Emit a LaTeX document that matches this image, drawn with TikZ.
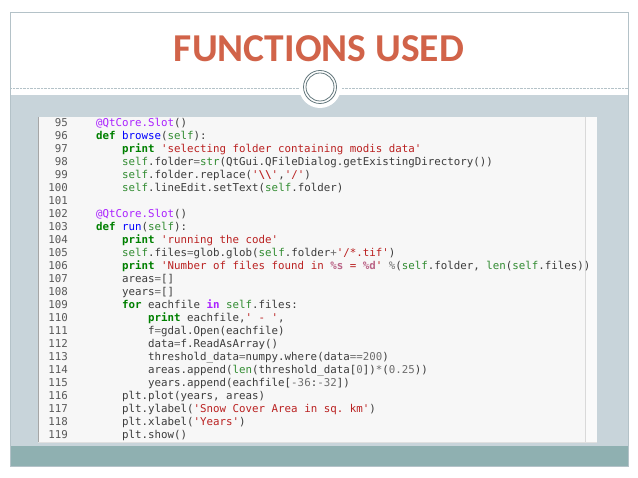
\documentclass[tikz,border=0pt]{standalone}
\usepackage{fontspec}
\setmainfont{Carlito}
\setmonofont{DejaVu Sans Mono}
\definecolor{titlered}{RGB}{209,99,73}
\definecolor{panelgray}{RGB}{200,212,218}
\definecolor{bandteal}{RGB}{143,176,177}
\definecolor{framegray}{RGB}{180,194,200}
\definecolor{ringgray}{RGB}{100,120,125}
\definecolor{codebg}{RGB}{247,247,247}
\definecolor{codetext}{RGB}{60,60,60}
\definecolor{kwgreen}{RGB}{0,128,0}
\definecolor{selfgreen}{RGB}{50,140,50}
\definecolor{strred}{RGB}{186,33,33}
\definecolor{numgray}{RGB}{110,110,110}
\definecolor{decpurple}{RGB}{170,34,255}
\definecolor{fnblue}{RGB}{0,0,255}
\definecolor{interp}{RGB}{187,102,136}
\newcommand{\kwd}[1]{\textcolor{kwgreen}{\bfseries #1}}
\newcommand{\inkw}[1]{\textcolor{decpurple}{\bfseries #1}}
\newcommand{\slf}{\textcolor{selfgreen}{self}}
\newcommand{\bltn}[1]{\textcolor{selfgreen}{#1}}
\newcommand{\strg}[1]{\textcolor{strred}{#1}}
\newcommand{\numb}[1]{\textcolor{numgray}{#1}}
\newcommand{\decor}[1]{\textcolor{decpurple}{#1}}
\newcommand{\fnm}[1]{\textcolor{fnblue}{#1}}
\newcommand{\fmt}[1]{\textcolor{interp}{\bfseries #1}}
\newcommand{\eq}{\numb{=}}
\begin{document}
\begin{tikzpicture}[x=1pt,y=-1pt,
        codeline/.style={anchor=base west,inner sep=0pt,text=codetext,
            font=\ttfamily\fontsize{10.8}{13}\selectfont},
        lineno/.style={anchor=base east,inner sep=0pt,text=codetext!85,
            font=\ttfamily\fontsize{10.8}{13}\selectfont}]
\useasboundingbox (0,0) rectangle (638,478);
\fill[white] (0,0) rectangle (638,478);

% slide frame
\fill[panelgray] (10,95) rectangle (628,446);
\fill[bandteal] (10,446) rectangle (628,466);
\draw[framegray] (10,12) rectangle (628,466);
\draw[framegray,densely dotted] (10,88) -- (628,88);

% title and ring
\node[text=titlered,font=\fontsize{39.5}{42}\selectfont\bfseries] (title) at (319,49) {FUNCTIONS USED};
\fill[white] (320,87) circle (21);
\draw[ringgray,line width=0.8pt] (320,87) circle (16.5);
\draw[ringgray,line width=0.8pt] (320,87) circle (14);

% code screenshot
\fill[codebg] (38,117) rectangle (597,442);
\fill[codebg!60!white] (585,117) rectangle (597,442);
\draw[black!15] (585,117) -- (585,442);
\draw[black!35] (38,117) -- (38,442);
\draw[black!12] (38,442) -- (597,442);

\foreach \n in {95,...,119}
    \node[lineno] (n\n) at (68,{127+13*(\n-95)}) {\n};

\node[codeline] (l95) at (96,127) {\decor{@QtCore.Slot}()};
\node[codeline] (l96) at (96,140) {\kwd{def} \fnm{browse}(\slf):};
\node[codeline] (l97) at (122,153) {\kwd{print} \strg{'selecting folder containing modis data'}};
\node[codeline] (l98) at (122,166) {\slf.folder\eq\bltn{str}(QtGui.QFileDialog.getExistingDirectory())};
\node[codeline] (l99) at (122,179) {\slf.folder.replace(\strg{'\textbf{\textbackslash\textbackslash}'},\strg{'/'})};
\node[codeline] (l100) at (122,192) {\slf.lineEdit.setText(\slf.folder)};

\node[codeline] (l102) at (96,218) {\decor{@QtCore.Slot}()};
\node[codeline] (l103) at (96,231) {\kwd{def} \fnm{run}(\slf):};
\node[codeline] (l104) at (122,244) {\kwd{print} \strg{'running the code'}};
\node[codeline] (l105) at (122,257) {\slf.files\eq glob.glob(\slf.folder\numb{+}\strg{'/*.tif'})};
\node[codeline] (l106) at (122,270) {\kwd{print} \strg{'Number of files found in \fmt{\%s} = \fmt{\%d}'} \numb{\%}(\slf.folder, \bltn{len}(\slf.files))};
\node[codeline] (l107) at (122,283) {areas\eq[]};
\node[codeline] (l108) at (122,296) {years\eq[]};
\node[codeline] (l109) at (122,309) {\kwd{for} eachfile \inkw{in} \slf.files:};
\node[codeline] (l110) at (148,322) {\kwd{print} eachfile,\strg{' - '},};
\node[codeline] (l111) at (148,335) {f\eq gdal.Open(eachfile)};
\node[codeline] (l112) at (148,348) {data\eq f.ReadAsArray()};
\node[codeline] (l113) at (148,361) {threshold\_data\eq numpy.where(data\numb{==200})};
\node[codeline] (l114) at (148,374) {areas.append(\bltn{len}(threshold\_data[\numb{0}])\numb{*}(\numb{0.25}))};
\node[codeline] (l115) at (148,387) {years.append(eachfile[\numb{-36}:\numb{-32}])};
\node[codeline] (l116) at (122,400) {plt.plot(years, areas)};
\node[codeline] (l117) at (122,413) {plt.ylabel(\strg{'Snow Cover Area in sq. km'})};
\node[codeline] (l118) at (122,426) {plt.xlabel(\strg{'Years'})};
\node[codeline] (l119) at (122,439) {plt.show()};

\end{tikzpicture}
\end{document}
